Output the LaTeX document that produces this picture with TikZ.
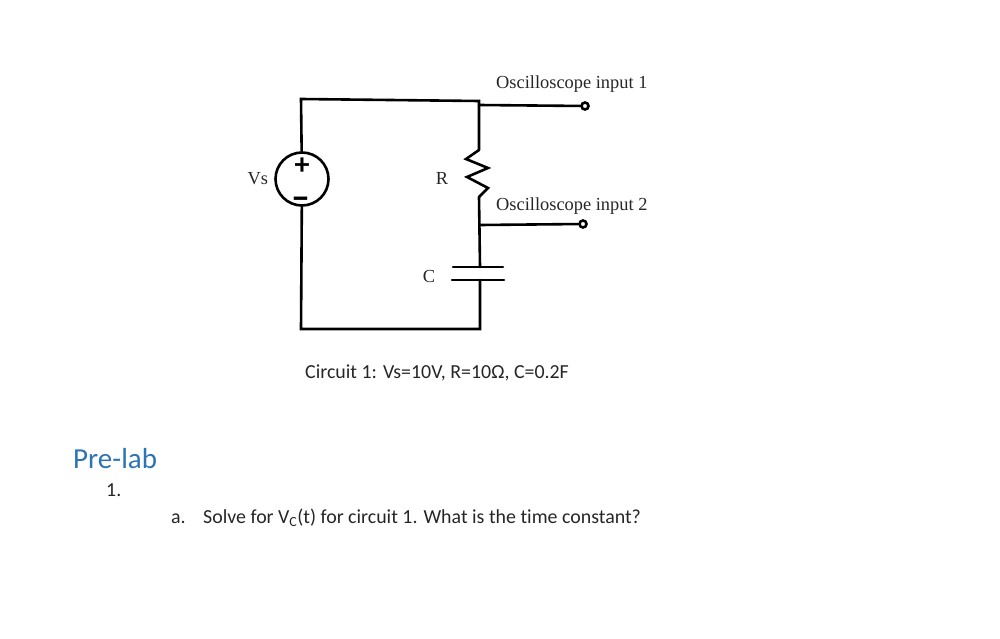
\documentclass[tikz,border=0pt]{standalone}
\usepackage{fontspec}
\setmainfont{Carlito}[Ligatures=NoCommon]
\newfontfamily\labelfont{Liberation Serif}
\definecolor{prelabblue}{RGB}{46,116,181}
\usetikzlibrary{positioning}
\tikzset{
  wire/.style={line width=2.6pt, line join=miter, line cap=round},
  source/.style={circle, draw, line width=2.6pt, minimum size=53pt, inner sep=0},
  terminal/.style={circle, draw, line width=2.6pt, fill=white, minimum size=7pt, inner sep=0},
  circuitlabel/.style={font=\labelfont\fontsize{18.4}{20}\selectfont, inner sep=0, text=black!85},
  doctext/.style={font=\fontsize{19.9}{22}\selectfont, inner sep=0, text=black!85, anchor=base west},
  polarity/.style={inner sep=0, font=\fontsize{30}{30}\selectfont\bfseries},
}
\begin{document}
\begin{tikzpicture}[x=1pt, y=-1pt]
  \useasboundingbox (0,0) rectangle (1000,639);

  \node [source] (vs) at (302,179) {};
  \node [circuitlabel, left=6pt of vs] (vslabel) {Vs};
  \node [polarity] (plus) at (302,166) {+};
  \node [polarity, font=\fontsize{38}{38}\selectfont\bfseries] (minus) at (301,203) {\textendash};

  \coordinate (topleft) at (301,99);
  \coordinate (topright) at (479,101);
  \coordinate (tapone) at (479,105);
  \coordinate (rtop) at (479,150);
  \coordinate (rbot) at (479,197);
  \coordinate (taptwo) at (480,225);
  \coordinate (ctop) at (480,267);
  \coordinate (cbot) at (480,280);
  \coordinate (botright) at (480,329);
  \coordinate (botleft) at (301,329);

  \node [terminal] (inone) at (585,106) {};
  \node [terminal] (intwo) at (583,224) {};
  \node [circuitlabel, anchor=base west] (inonelabel) at (496,89) {Oscilloscope input 1};
  \node [circuitlabel, anchor=base west] (intwolabel) at (496,210.5) {Oscilloscope input 2};
  \node [circuitlabel] (rlabel) at (442,178) {R};
  \node [circuitlabel] (clabel) at (429,276) {C};

  \draw [wire] (vs) -- (topleft) -- (topright) -- (rtop);
  \draw [wire] (tapone) -- (inone);
  \draw [wire] (rtop) -- ++(-13,9) -- ++(22,9) -- ++(-21,9) -- ++(21,11) -- (rbot);
  \draw [wire] (rbot) -- (ctop);
  \draw [wire] (taptwo) -- (intwo);
  \draw [wire] (ctop) ++(-27,0) -- ++(50,0);
  \draw [wire] (cbot) ++(-28,0) -- ++(52,0);
  \draw [wire] (cbot) -- (botright) -- (botleft) -- (vs);

  \node [doctext] (caption) at (305,378) {Circuit 1: Vs=10V, R=10Ω, C=0.2F};
  \node [doctext, font=\fontsize{29}{30}\selectfont, text=prelabblue] (prelab) at (73,468) {Pre-lab};
  \node [doctext] (itemone) at (106,496) {1.};
  \node [doctext] (itema) at (171,523) {a.};
  \node [doctext] (question) at (203,523) {Solve for V\textsubscript{C}(t) for circuit 1. What is the time constant?};
\end{tikzpicture}
\end{document}
